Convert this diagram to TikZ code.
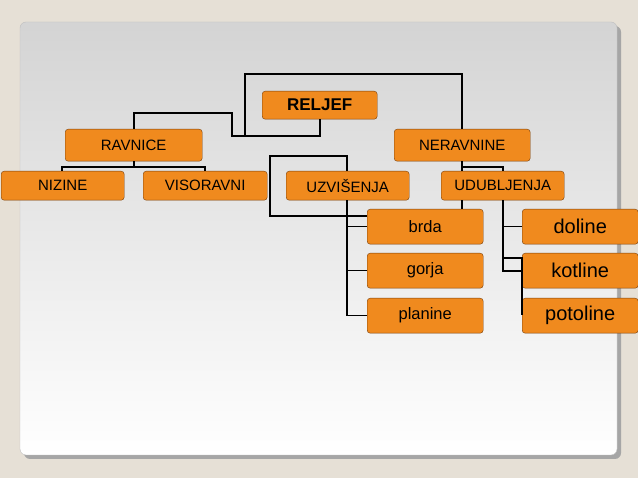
\documentclass[tikz,border=0pt]{standalone}
\usepackage{fontspec}
\setmainfont{Liberation Sans}
\usetikzlibrary{positioning,shadows}
\definecolor{boxorange}{HTML}{F08A1E}
\definecolor{boxline}{HTML}{7A3E08}
\definecolor{pagebg}{HTML}{E6E0D6}
\tikzset{
    every node/.style={font=\fontsize{15}{17}\selectfont},
    box/.style={draw=boxline,fill=boxorange,rounded corners=3pt,inner sep=0pt,
        text=black,anchor=north west},
    small box/.style={box,minimum width=123pt,minimum height=29pt},
    leaf box/.style={box,minimum width=116pt,minimum height=35pt,
        font=\fontsize{16.5}{18}\selectfont},
    big leaf/.style={leaf box,font=\fontsize{20}{22}\selectfont},
    link/.style={line width=1.6pt,black}
}
\begin{document}
\begin{tikzpicture}[x=1pt,y=-1pt]
    \useasboundingbox (0,0) rectangle (638,478);
    \fill[pagebg] (0,0) rectangle (638,478);
    \fill[black!35,rounded corners=6pt] (24,26) rectangle (621,459);
    \shade[top color=black!17,bottom color=white,rounded corners=6pt,draw=black!25]
        (20,22) rectangle (617,455);

    % boxes
    \node[box,minimum width=115pt,minimum height=28pt,font=\bfseries\fontsize{17}{19}\selectfont]
        (reljef) at (262,91) {RELJEF};
    \node[box,minimum width=137pt,minimum height=32pt] (ravnice) at (65,129) {RAVNICE};
    \node[box,minimum width=136pt,minimum height=32pt] (neravnine) at (394,129) {NERAVNINE};
    \node[small box] (nizine) at (1,171) {NIZINE};
    \node[small box,minimum width=124pt] (visoravni) at (143,171) {VISORAVNI};
    \node[small box] (uzvisenja) at (286,171) {UZVIŠENJA};
    \node[small box] (udubljenja) at (441,171) {UDUBLJENJA};
    \node[leaf box] (brda) at (367,209) {brda};
    \node[leaf box] (gorja) at (367,253) {gorja};
    \node[leaf box] (planine) at (367,298) {planine};
    \node[big leaf] (doline) at (522,209) {doline};
    \node[big leaf] (kotline) at (522,253) {kotline};
    \node[big leaf] (potoline) at (522,298) {potoline};

    % connectors
    \coordinate (top) at (462,74);
    \draw[link] (reljef.south -| 320,0) |- (232,136) |- (134,113) -- (ravnice.north -| 134,0);
    \draw[link] (245,136) -- (245,74) -- (top) -- (neravnine.north -| top);
    \draw[link] (ravnice.south -| 134,0) -- (134,167) -| (nizine.north -| 62,0);
    \draw[link] (134,167) -| (visoravni.north -| 205,0);
    \draw[link] (neravnine.south -| top) -- (udubljenja.north -| top);
    \draw[link] (462,167) -| (udubljenja.north -| 503,0);
    \draw[link] (uzvisenja.north -| 347,0) |- (270,156) |- (brda.west |- 0,216);
    \draw[link] (uzvisenja.south -| 347,0) |- (planine.west);
    \draw[link] (347,0 |- brda.west) -- (brda.west);
    \draw[link] (347,0 |- gorja.west) -- (gorja.west);
    \draw[link] (udubljenja.south -| top) -- (brda.north -| top);
    \draw[link] (udubljenja.south -| 503,0) |- (kotline.west |- 0,271);
    \draw[link] (503,0 |- doline.west) -- (doline.west);
    \draw[link] (503,258) -- (522,258) -- (potoline.west |- 0,315);
\end{tikzpicture}
\end{document}
